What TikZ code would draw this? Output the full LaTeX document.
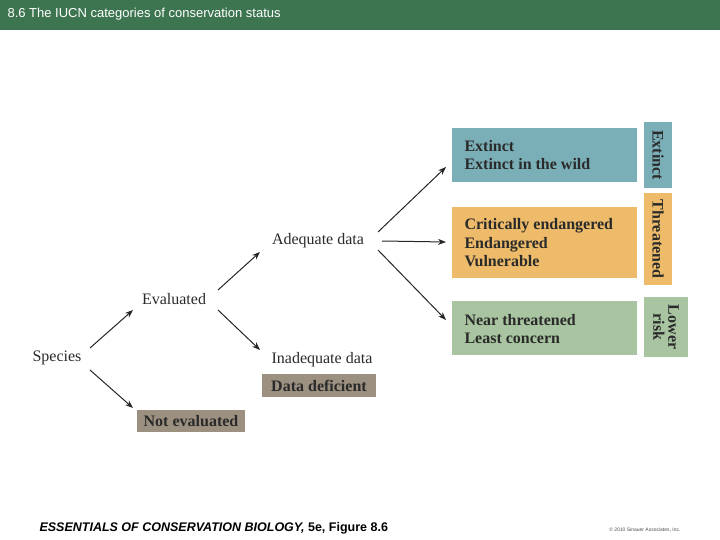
\documentclass[tikz,border=0pt]{standalone}
\usepackage{fontspec}
\setmainfont{Liberation Serif}
\setsansfont{Liberation Sans}
\usetikzlibrary{arrows.meta}
\definecolor{hdr}{HTML}{3E7551}
\definecolor{cblue}{HTML}{7AAFB8}
\definecolor{corange}{HTML}{EDBB6A}
\definecolor{cgreen}{HTML}{A8C4A0}
\definecolor{cgray}{HTML}{9C9080}
\definecolor{txt}{HTML}{2A2A2A}
\begin{document}
\begin{tikzpicture}[x=1pt,y=-1pt,
  lbl/.style={font=\fontsize{16}{18}\selectfont, text=txt, inner sep=1pt},
  cat/.style={font=\fontsize{16}{18.5}\selectfont\bfseries, text=txt, align=left, anchor=west},
  side/.style={font=\fontsize{16}{15}\selectfont\bfseries, text=txt, rotate=-90, align=center},
  arr/.style={-{Stealth[length=8pt,width=6pt]}, line width=1pt, black!85}]
\useasboundingbox (0,0) rectangle (720,540);
\fill[hdr] (0,0) rectangle (720,30);
\node[anchor=west, text=white, font=\sffamily\fontsize{13}{15}\selectfont] (title) at (4,14) {8.6 The IUCN categories of conservation status};
% category boxes
\fill[cblue] (452,128) rectangle (637,182);
\node[cat] (ex) at (461,155) {Extinct\\Extinct in the wild};
\fill[cblue] (644,122) rectangle (672,188);
\node[side] (sex) at (658,155) {Extinct};
\fill[corange] (452,207) rectangle (637,278);
\node[cat] (th) at (461,243) {Critically endangered\\Endangered\\Vulnerable};
\fill[corange] (644,193) rectangle (672,285);
\node[side] (sth) at (658,239) {Threatened};
\fill[cgreen] (452,301) rectangle (637,355);
\node[cat] (lr) at (461,329) {Near threatened\\Least concern};
\fill[cgreen] (644,297) rectangle (688,357);
\node[side, font=\fontsize{16}{15}\selectfont\bfseries] (slr) at (666,327) {Lower\\risk};
\fill[cgray] (262,374) rectangle (376,397);
\node[cat, anchor=center] (dd) at (319,385.5) {Data deficient};
\fill[cgray] (137,410) rectangle (245,432);
\node[cat, anchor=center] (ne) at (191,421) {Not evaluated};
% labels
\node[lbl] (sp) at (57,358) {Species};
\node[lbl] (ev) at (174,299) {Evaluated};
\node[lbl] (ad) at (318,241) {Adequate data};
\node[lbl] (in) at (322,360) {Inadequate data};
\coordinate (a1) at (446,167); \coordinate (a2) at (446,242); \coordinate (a3) at (446,320);
\coordinate (b1) at (133,310); \coordinate (b2) at (133,408);
\coordinate (c1) at (260,252); \coordinate (c2) at (260,350);
\coordinate (s1) at (90,348); \coordinate (s2) at (90,370);
\coordinate (e1) at (218,290); \coordinate (e2) at (218,310);
\coordinate (d1) at (378,232); \coordinate (d2) at (382,241); \coordinate (d3) at (378,250);
\draw[arr] (s1) -- (b1);
\draw[arr] (s2) -- (b2);
\draw[arr] (e1) -- (c1);
\draw[arr] (e2) -- (c2);
\draw[arr] (d1) -- (a1);
\draw[arr] (d2) -- (a2);
\draw[arr] (d3) -- (a3);
\node[anchor=west, font=\sffamily\bfseries\itshape\fontsize{12.5}{14}\selectfont] (cap) at (36,528) {ESSENTIALS OF CONSERVATION BIOLOGY, \normalfont\sffamily\bfseries\fontsize{12.5}{14}\selectfont 5e, Figure 8.6};
\node[anchor=east, font=\sffamily\fontsize{5}{6}\selectfont, text=black!70] (copy) at (684,530) {© 2010 Sinauer Associates, Inc.};
\end{tikzpicture}
\end{document}
